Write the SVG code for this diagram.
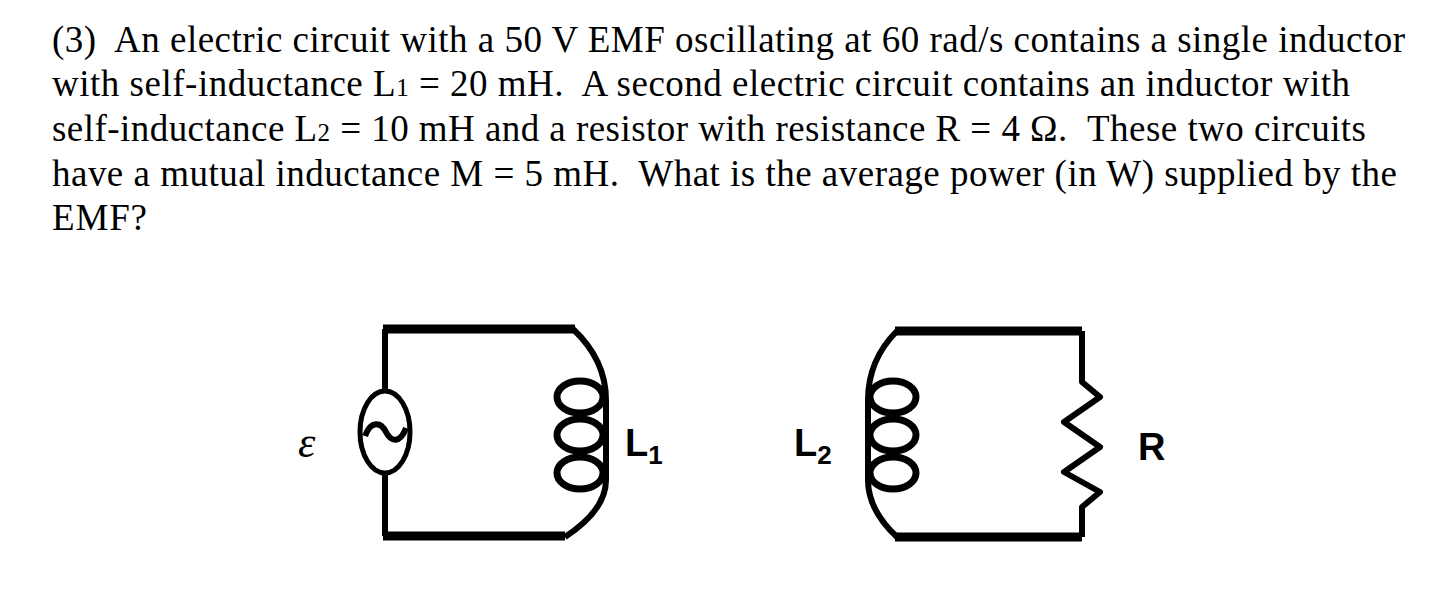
<svg xmlns="http://www.w3.org/2000/svg" width="1452" height="598" viewBox="0 0 1452 598">
<style>
.t{font-family:"Liberation Serif",serif;font-size:37px;fill:#000;white-space:pre}
.w{fill:none;stroke:#000;stroke-width:6;stroke-linejoin:round}
.th{fill:none;stroke:#000;stroke-width:9}
.lb{font-family:"Liberation Sans",sans-serif;font-weight:bold;fill:#000}
.c{fill:none;stroke:#000;stroke-width:7}
</style>
<rect width="1452" height="598" fill="#fff"/>
<g id="question">
<text class="t" x="52" y="52" textLength="1353" lengthAdjust="spacing">(3)  An electric circuit with a 50 V EMF oscillating at 60 rad/s contains a single inductor</text>
<text class="t" x="52" y="96" textLength="1298" lengthAdjust="spacing">with self-inductance L<tspan font-size="25">1</tspan> = 20 mH.  A second electric circuit contains an inductor with</text>
<text class="t" x="52" y="141" textLength="1314" lengthAdjust="spacing">self-inductance L<tspan font-size="25">2</tspan> = 10 mH and a resistor with resistance R = 4 Ω.  These two circuits</text>
<text class="t" x="52" y="186" textLength="1345" lengthAdjust="spacing">have a mutual inductance M = 5 mH.  What is the average power (in W) supplied by the</text>
<text class="t" x="52" y="230" textLength="95" lengthAdjust="spacing">EMF?</text>
</g>
<g id="connectors">
<path class="w" d="M385,392 V329 M385,472 V536"/>
<path class="th" d="M383,329 H575 M383,536 H565"/>
<path class="w" d="M573,329 Q606,360 606,400 V480 Q606,510 565,537"/>
<path class="th" d="M895,331 H1082 M895,537 H1082"/>
<path class="w" d="M897,331 Q868,360 868,400 V480 Q868,510 897,537"/>
</g>
<g id="source">
<ellipse cx="385" cy="432" rx="25" ry="41" fill="#fff" stroke="#000" stroke-width="5"/>
<path d="M365,436 C371,420 381,422 386,432 C391,442 400,444 406,428" fill="none" stroke="#000" stroke-width="6"/>
<text x="298" y="457" font-family="Liberation Serif,serif" font-style="italic" font-size="44">ε</text>
</g>
<g id="L1">
<ellipse cx="580" cy="397" rx="23" ry="16" class="c"/>
<ellipse cx="580" cy="435" rx="23" ry="16" class="c"/>
<ellipse cx="580" cy="473" rx="23" ry="16" class="c"/>
<text class="lb" x="625" y="456" font-size="38">L<tspan font-size="26" dy="8">1</tspan></text>
</g>
<g id="L2">
<ellipse cx="893" cy="397" rx="23" ry="16" class="c"/>
<ellipse cx="893" cy="435" rx="23" ry="16" class="c"/>
<ellipse cx="893" cy="473" rx="23" ry="16" class="c"/>
<text class="lb" x="794" y="456" font-size="38">L<tspan font-size="26" dy="8">2</tspan></text>
</g>
<g id="R">
<path class="w" d="M1082,331 V382 L1100,397 L1064,422 L1100,447 L1064,472 L1100,492 L1082,507 V537"/>
<text class="lb" x="1138" y="460" font-size="38">R</text>
</g>
</svg>
